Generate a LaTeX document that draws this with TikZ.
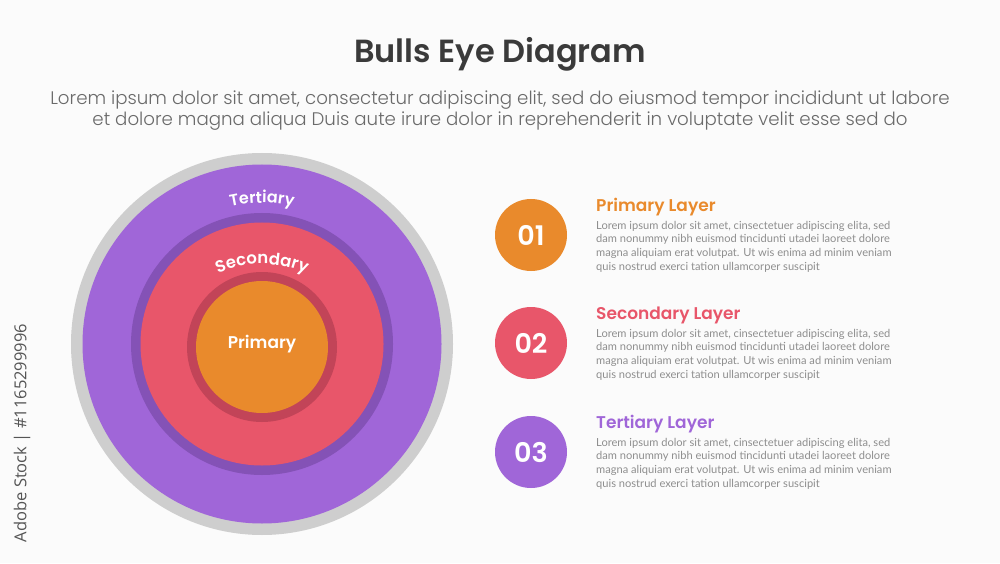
\documentclass[tikz,border=0pt]{standalone}
\usepackage{fontspec}
\setmainfont{Lato}
\newfontfamily\popsemi{Poppins SemiBold}
\newfontfamily\poplight{Poppins Light}
\newfontfamily\opensans{Open Sans}
\usepackage{xcolor}
\usepackage{tikz}
\usetikzlibrary{decorations.text}

\definecolor{bgpage}{HTML}{FBFBFB}
\definecolor{rimgrey}{HTML}{CECECE}
\definecolor{terfill}{HTML}{A066D8}
\definecolor{terdark}{HTML}{8452B6}
\definecolor{secfill}{HTML}{E8566A}
\definecolor{secdark}{HTML}{C24458}
\definecolor{prifill}{HTML}{E98A2C}
\definecolor{titlegrey}{HTML}{3A3A3A}
\definecolor{subgrey}{HTML}{6A6A6A}
\definecolor{creditgrey}{HTML}{555555}
\definecolor{bodygrey}{HTML}{8E8E8E}

\newcommand{\fsz}[2]{\fontsize{#1}{#2}\selectfont}
\newcommand{\loremtxt}{Lorem ipsum dolor sit amet, cinsectetuer adipiscing elita, sed\\
dam nonummy nibh euismod tincidunti utadei laoreet dolore\\
magna aliquiam erat volutpat. Ut wis enima ad minim veniam\\
quis nostrud exerci tation ullamcorper suscipit}

\begin{document}
\begin{tikzpicture}[x=1pt, y=1pt,
  ring/.style={circle, inner sep=0pt, outer sep=0pt, draw=none},
  numdot/.style={circle, inner sep=0pt, minimum size=72, text=white, font=\popsemi\fsz{27}{27}},
  layerhead/.style={anchor=base west, inner sep=0pt, font=\popsemi\fsz{17}{17}},
  layerbody/.style={anchor=north west, inner sep=0pt, align=left, text=bodygrey, font=\fsz{11.1}{13.6}},
  eyelabel/.style={text=white, inner sep=0pt, font=\popsemi\fsz{17}{17}}]
\useasboundingbox[fill=bgpage] (0,0) rectangle (1000,563);

% heading
\node[text=titlegrey, font=\popsemi\fsz{32}{32}] (title) at (500,509) {Bulls Eye Diagram};
\node[text=subgrey, align=center, font=\poplight\fsz{18.2}{21}] (subtitle) at (500,452)
  {Lorem ipsum dolor sit amet, consectetur adipiscing elit, sed do eiusmod tempor incididunt ut labore\\
   et dolore magna aliqua Duis aute irure dolor in reprehenderit in voluptate velit esse sed do};

% bulls eye
\coordinate (eye) at (262,219);
\coordinate (core) at (262,216);
\coordinate (secarc) at (262,189);
\node[ring, fill=rimgrey, minimum size=382] (rim) at (eye) {};
\node[ring, fill=terfill, minimum size=359] (tertiary) at (eye) {};
\node[ring, fill=terdark, minimum size=262] (terband) at (eye) {};
\node[ring, fill=secfill, minimum size=243] (secondary) at (eye) {};
\node[ring, fill=secdark, minimum size=150] (secband) at (core) {};
\node[ring, fill=prifill, minimum size=132] (primary) at (core) {};
\node[eyelabel] (primarylbl) at (262,219) {Primary};
\path[decorate, decoration={text along path, text align=center, text color=white,
  text={|\popsemi\fsz{16}{16}|Tertiary}}]
  ([shift={(160:141)}]eye) arc[start angle=160, end angle=20, radius=141];
\path[decorate, decoration={text along path, text align=center, text color=white,
  text={|\popsemi\fsz{16.5}{16.5}|Secondary}}]
  ([shift={(150:110)}]secarc) arc[start angle=150, end angle=30, radius=110];

% layer list
\foreach \n/\y/\col/\name in {01/328/prifill/Primary, 02/220/secfill/Secondary, 03/111/terfill/Tertiary}{
  \node[numdot, fill=\col] (num\n) at (531,\y) {\n};
  \node[layerhead, text=\col] (head\n) at (596,\y+24) {\name{} Layer};
  \node[layerbody] (body\n) at (596,\y+14) {\loremtxt};
}

% side credit
\node[rotate=90, text=creditgrey, font=\opensans\fsz{16.5}{16.5}] (credit) at (22,130) {Adobe Stock | \#1165299996};
\end{tikzpicture}
\end{document}
